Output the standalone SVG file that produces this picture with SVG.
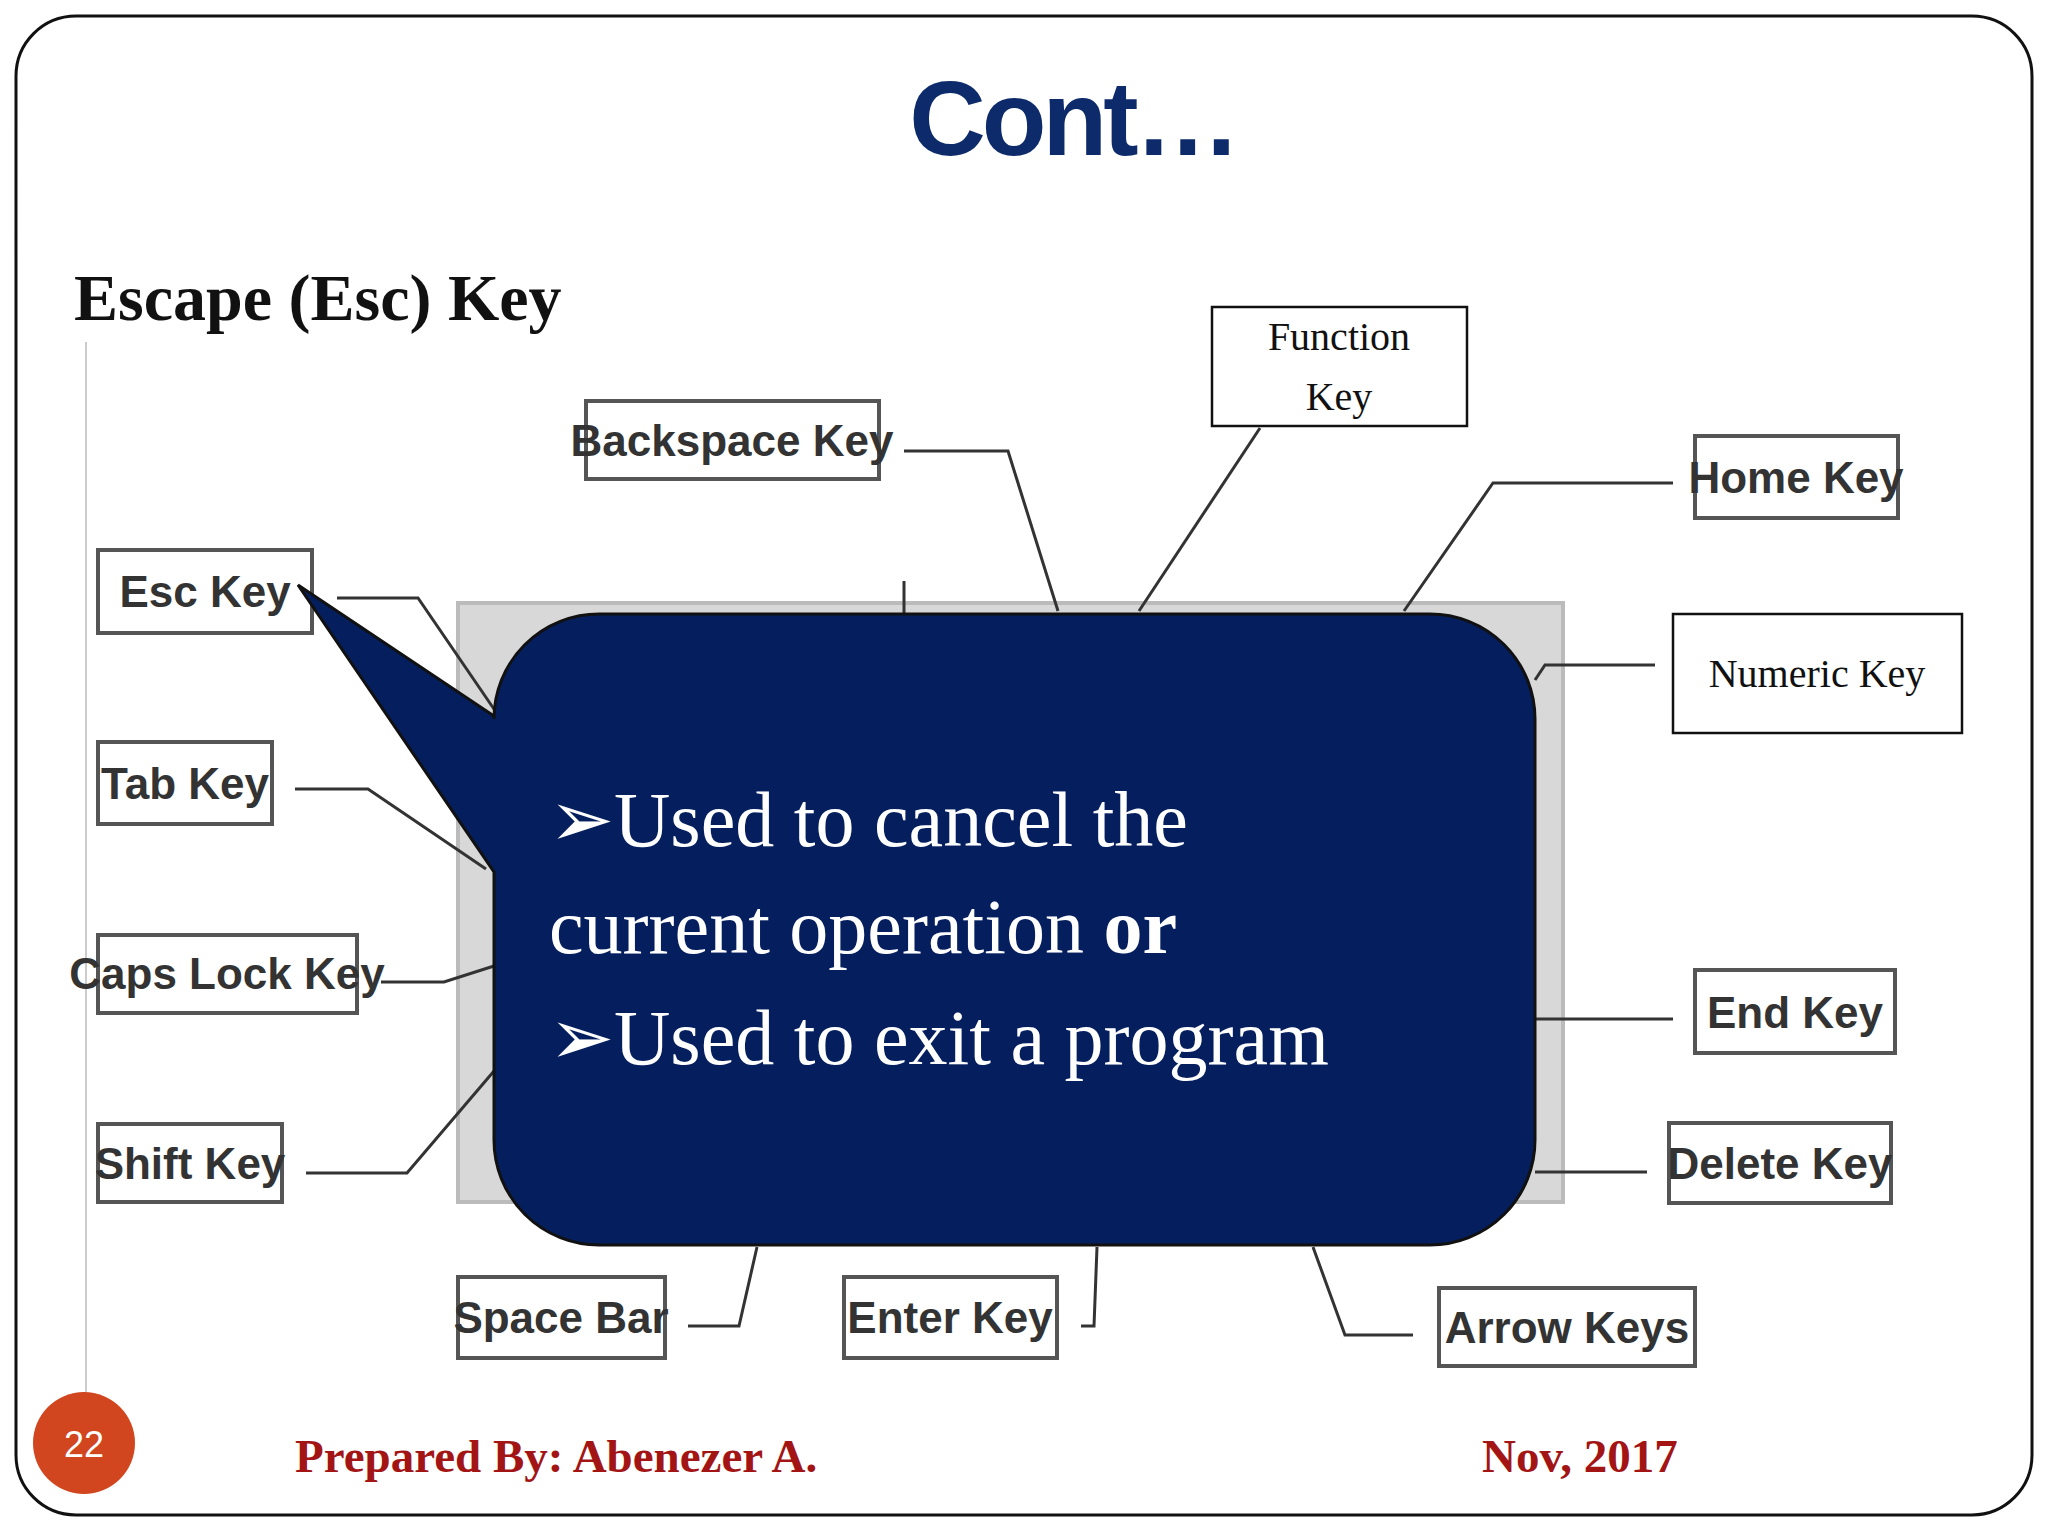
<svg xmlns="http://www.w3.org/2000/svg" width="2048" height="1536" viewBox="0 0 2048 1536">
<style>
.k rect{fill:#fff;stroke:#555;stroke-width:4}
.k text{font-family:"Liberation Sans",sans-serif;font-size:44px;fill:#333;text-anchor:middle;font-weight:bold}
.b rect{fill:#fff;stroke:#111;stroke-width:2.5}
.b text{font-family:"Liberation Serif",serif;font-size:40px;fill:#111;text-anchor:middle}
#conn path{fill:none;stroke:#333;stroke-width:3}
.ct{font-family:"Liberation Serif",serif;font-size:78px;fill:#fff}
</style>
<rect width="2048" height="1536" fill="#fff"/>
<rect x="16" y="16" width="2016" height="1499" rx="60" fill="#fff" stroke="#111" stroke-width="3"/>
<line x1="86" y1="342" x2="86" y2="1410" stroke="#ccc" stroke-width="2"/>
<text x="1073" y="155" font-family="Liberation Sans,sans-serif" font-weight="bold" font-size="106" fill="#0d2a6b" text-anchor="middle" letter-spacing="-4">Cont…</text>
<text x="74" y="320" font-family="Liberation Serif,serif" font-weight="bold" font-size="66" fill="#111">Escape (Esc) Key</text>
<rect id="keyboard" x="458" y="603" width="1105" height="599" fill="#d8d8d8" stroke="#bbb" stroke-width="4"/>
<g id="conn">
<path d="M904,451H1008L1058,611"/>
<path d="M1260,428L1139,611"/>
<path d="M1673,483H1493L1404,611"/>
<path d="M1655,665H1545L1535,680"/>
<path d="M337,598H418L496,712"/>
<path d="M295,789H368L486,869"/>
<path d="M381,982H444L494,966"/>
<path d="M306,1173H407L494,1071"/>
<path d="M688,1326H739L757,1247"/>
<path d="M1081,1326H1094L1097,1247"/>
<path d="M1413,1335H1345L1313,1247"/>
<path d="M1673,1019H1535"/>
<path d="M1647,1172H1535"/>
<path d="M904,581V614"/>
</g>
<g id="backspace" class="k"><rect x="586" y="401" width="293" height="78"/><text x="732" y="456">Backspace Key</text></g>
<g id="home" class="k"><rect x="1695" y="436" width="203" height="82"/><text x="1796" y="493">Home Key</text></g>
<g id="esc" class="k"><rect x="98" y="550" width="214" height="83"/><text x="205" y="607">Esc Key</text></g>
<g id="tab" class="k"><rect x="98" y="742" width="174" height="82"/><text x="185" y="799">Tab Key</text></g>
<g id="caps" class="k"><rect x="98" y="935" width="259" height="78"/><text x="227" y="989">Caps Lock Key</text></g>
<g id="shift" class="k"><rect x="98" y="1124" width="184" height="78"/><text x="190" y="1179">Shift Key</text></g>
<g id="space" class="k"><rect x="458" y="1277" width="207" height="81"/><text x="561" y="1333">Space Bar</text></g>
<g id="enter" class="k"><rect x="844" y="1277" width="213" height="81"/><text x="950" y="1333">Enter Key</text></g>
<g id="arrow" class="k"><rect x="1439" y="1288" width="256" height="78"/><text x="1567" y="1343">Arrow Keys</text></g>
<g id="end" class="k"><rect x="1695" y="970" width="200" height="83"/><text x="1795" y="1028">End Key</text></g>
<g id="delete" class="k"><rect x="1669" y="1123" width="222" height="80"/><text x="1780" y="1179">Delete Key</text></g>
<g id="function" class="b"><rect x="1212" y="307" width="255" height="119"/><text x="1339" y="350">Function</text><text x="1339" y="410">Key</text></g>
<g id="numeric" class="b"><rect x="1673" y="614" width="289" height="119"/><text x="1817" y="687">Numeric Key</text></g>
<g id="callout">
<path d="M599,614H1430A105,105 0 0 1 1535,719V1140A105,105 0 0 1 1430,1245H599A105,105 0 0 1 494,1140V872L298,585L494,716V719A105,105 0 0 1 599,614Z" fill="#041e5e" stroke="#111" stroke-width="3"/>
<text class="ct" x="549" y="846">➢Used to cancel the</text>
<text class="ct" x="549" y="953">current operation <tspan font-weight="bold">or</tspan></text>
<text class="ct" x="549" y="1064">➢Used to exit a program</text>
</g>
<g id="footer">
<circle cx="84" cy="1443" r="51" fill="#d2461f"/>
<text x="84" y="1457" font-family="Liberation Sans,sans-serif" font-size="36" fill="#fff" text-anchor="middle">22</text>
<text x="295" y="1472" font-family="Liberation Serif,serif" font-weight="bold" font-size="47" fill="#a31515">Prepared By: Abenezer A.</text>
<text x="1482" y="1472" font-family="Liberation Serif,serif" font-weight="bold" font-size="47" fill="#a31515">Nov, 2017</text>
</g>
</svg>
